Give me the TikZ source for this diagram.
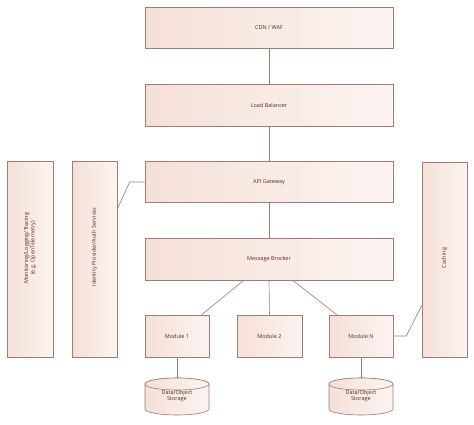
\documentclass[tikz,border=0pt]{standalone}
\usepackage{fontspec}
\setmainfont{Open Sans}
\definecolor{strokec}{HTML}{A47A72}
\definecolor{fillA}{HTML}{F4E0D8}
\definecolor{fillB}{HTML}{FCF4F1}
\definecolor{textc}{HTML}{5E2A20}
\tikzset{
  box/.style={draw=strokec, line width=0.6pt, left color=fillA, right color=fillB,
    text=textc, font=\fontsize{5.5}{6.6}\selectfont, inner sep=0pt, align=center},
  lbl/.style={text=textc, font=\fontsize{5.5}{6.6}\selectfont, align=center, inner sep=0pt},
  conn/.style={draw=strokec, line width=0.6pt}
}
\begin{document}
\begin{tikzpicture}[x=1pt,y=-1pt]
\useasboundingbox (0,0) rectangle (474,424);
\fill[white] (0,0) rectangle (474,424);
% main column
\node[box, minimum width=248pt, minimum height=41pt] (cdn) at (269,27.5) {CDN / WAF};
\node[box, minimum width=248pt, minimum height=42pt] (lb) at (269,105) {Load Balancer};
\node[box, minimum width=248pt, minimum height=41pt] (api) at (269,182) {API Gateway};
\node[box, minimum width=248pt, minimum height=42pt] (mb) at (269,259) {Message Brocker};
% modules
\node[box, minimum width=64pt, minimum height=42pt] (m1) at (177,336) {Module 1};
\node[box, minimum width=65pt, minimum height=42pt] (m2) at (269.5,336) {Module 2};
\node[box, minimum width=64pt, minimum height=42pt] (mN) at (361,336) {Module N};
% side columns
\node[box, minimum width=46pt, minimum height=196pt] (mon) at (30,259) {};
\node[lbl, rotate=90] (monl) at (30,248) {Monitoring/Logging/Tracing\\(e.g. OpenTelemetry)};
\node[box, minimum width=45pt, minimum height=196pt] (idp) at (94.5,259) {};
\node[lbl, rotate=90] (idpl) at (94.5,247) {Identity Provider/Auth Services};
\node[box, minimum width=45pt, minimum height=195pt] (cache) at (444.5,259.5) {};
\node[lbl, rotate=90] (cachel) at (444.5,258) {Caching};
% storage cylinders
\foreach \cx/\nm in {177/st1, 361/stN}{
  \path[draw=strokec, line width=0.6pt, left color=fillA, right color=fillB]
    (\cx-32,384) -- (\cx-32,409) arc (180:0:32 and 6) -- (\cx+32,384)
    arc (0:-180:32 and 6) -- cycle;
  \path[draw=strokec, line width=0.6pt, left color=fillA, right color=fillB]
    (\cx,384) ellipse (32 and 6);
  \coordinate (\nm) at (\cx,378);
  \node[lbl] (\nm l) at (\cx,396) {Data/Object\\Storage};
}
% connectors
\draw[conn] (cdn.south) -- (lb.north);
\draw[conn] (lb.south) -- (api.north);
\draw[conn] (api.south) -- (mb.north);
\draw[conn] ([xshift=99pt]mb.south west) -- ([xshift=57pt]m1.north west);
\draw[conn] (mb.south) -- (m2.north);
\draw[conn] ([xshift=148pt]mb.south west) -- ([xshift=8pt]mN.north west);
\draw[conn] (m1.south) -- (st1);
\draw[conn] (mN.south) -- (stN);
\draw[conn] (mN.east) -- ([xshift=13pt]mN.east) -- ([yshift=-46pt]cache.west);
\draw[conn] ([yshift=50pt]idp.east) -- ([xshift=-15pt]api.west) -- (api.west);
\end{tikzpicture}
\end{document}
